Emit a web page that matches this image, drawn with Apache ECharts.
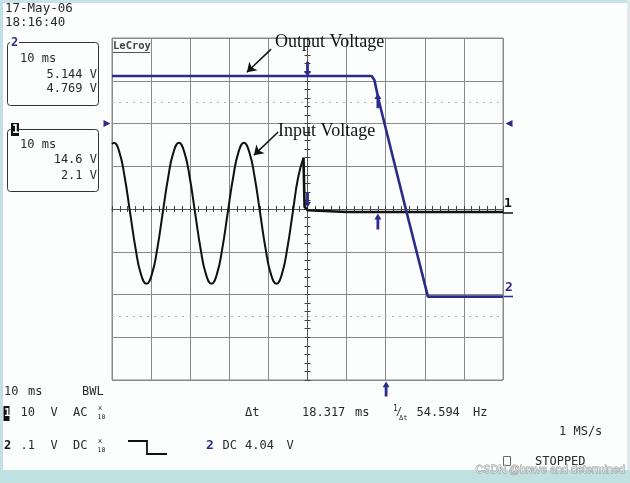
<!DOCTYPE html>
<html><head><meta charset="utf-8">
<script src="https://cdn.jsdelivr.net/npm/echarts@6/dist/echarts.min.js"></script>
<style>html,body{margin:0;padding:0;background:#fcfdfd;}#c{width:630px;height:483px;}</style>
</head><body><div id="c"></div>
<script>
// Time axis in ms (10 ms/div), vertical in divisions
const xTicks = [-50, -40, -30, -20, -10, 0, 10, 20, 30, 40, 50];
const yTicks = [-4, -3, -2, -1, 0, 1, 2, 3, 4];

// Channel 1 (Input Voltage) – sine portion
const inTime = [-50.00, -49.50, -48.12, -46.73, -45.35, -43.96, -42.58, -41.19, -39.81, -38.42, -37.04, -35.65, -34.27,
  -32.88, -31.50, -30.11, -28.73, -27.34, -25.96, -24.57, -23.19, -21.80, -20.42, -19.03, -17.65,
  -16.26, -14.88, -13.49, -12.11, -10.72, -9.34, -7.95, -6.57, -5.18, -3.80, -2.41, -1.03];
const inVal = [1.52, 1.55, 1.33, 0.73, -0.10, -0.93, -1.53, -1.75, -1.53, -0.93, -0.10, 0.73, 1.33,
  1.55, 1.33, 0.73, -0.10, -0.93, -1.53, -1.75, -1.53, -0.93, -0.10, 0.73, 1.33,
  1.55, 1.33, 0.73, -0.10, -0.93, -1.53, -1.75, -1.53, -0.93, -0.10, 0.73, 1.20];
// Channel 1 after the drop
const tailTime = [-1.03, -0.75, 0.10, 10.0, 50.0];
const tailVal = [1.20, 0.05, -0.03, -0.07, -0.07];

// Channel 2 (Output Voltage)
const outTime = [-50.0, 16.4, 17.1, 18.2, 25.2, 30.8, 50.0];
const outVal = [3.11, 3.11, 3.02, 2.55, -0.02, -2.05, -2.05];

// Reference dotted levels
const dotLevels = [2.5, -2.5];

const zip = (a, b) => a.map((v, i) => [v, b[i]]);
const NAVY = '#2b2b8c';
const MONO = '"DejaVu Sans Mono", "Liberation Mono", monospace';
const arrowUp = 'path://M5,0 L10,6 L7,6 L7,16 L3,16 L3,6 L0,6 Z';

function axisX(pos) {
  return {
    type: 'value', min: xTicks[0], max: xTicks[xTicks.length - 1], interval: 10, position: pos,
    axisLine: { show: true, onZero: true, lineStyle: { color: '#555', width: 1 } },
    axisTick: { show: true, inside: false, length: 3, lineStyle: { color: '#444' } },
    minorTick: { show: true, splitNumber: 5, length: 3, lineStyle: { color: '#444' } },
    axisLabel: { show: false },
    splitLine: { show: pos === 'bottom', lineStyle: { color: '#8a8a8a', width: 1 } },
    minorSplitLine: { show: false }
  };
}
function axisY(pos) {
  return {
    type: 'value', min: yTicks[0], max: yTicks[yTicks.length - 1], interval: 1, position: pos,
    axisLine: { show: true, onZero: true, lineStyle: { color: '#555', width: 1 } },
    axisTick: { show: true, inside: false, length: 3, lineStyle: { color: '#444' } },
    minorTick: { show: true, splitNumber: 5, length: 3, lineStyle: { color: '#444' } },
    axisLabel: { show: false },
    splitLine: { show: pos === 'left', lineStyle: { color: '#8a8a8a', width: 1 } },
    minorSplitLine: { show: false }
  };
}

function txt(x, y, s, opts) {
  opts = opts || {};
  return {
    type: 'text', silent: true, z: 100,
    style: {
      x: x, y: y, text: s,
      font: opts.font || ('12px ' + MONO),
      fill: opts.fill || '#2a2a2a',
      align: opts.align || 'left', verticalAlign: 'middle',
      stroke: opts.stroke, lineWidth: opts.lineWidth || 0
    }
  };
}
function rect(x, y, w, h, style, r) {
  return { type: 'rect', silent: true, z: 90, shape: { x: x, y: y, width: w, height: h, r: r || 0 }, style: style };
}
function line(x1, y1, x2, y2, stroke, w) {
  return { type: 'line', silent: true, z: 95, shape: { x1: x1, y1: y1, x2: x2, y2: y2 }, style: { stroke: stroke, lineWidth: w } };
}

const graphics = [
  rect(0, 0, 630, 3, { fill: '#c8e2ea' }),
  rect(0, 0, 3, 483, { fill: '#c0dfe8' }),
  rect(627, 0, 3, 483, { fill: '#dde9ec' }),
  rect(0, 470, 630, 13, { fill: '#bfe1e1' }),
  // header
  txt(5, 9, '17-May-06', { font: '12.5px ' + MONO }),
  txt(5, 23, '18:16:40', { font: '12.5px ' + MONO }),
  // box 2
  rect(7.5, 42.5, 91, 63, { fill: 'none', stroke: '#333', lineWidth: 1 }, 3),
  rect(10, 37, 9, 12, { fill: '#fcfdfd' }),
  txt(11, 43, '2', { font: 'bold 12px ' + MONO, fill: NAVY }),
  txt(20, 59, '10 ms'),
  txt(97, 75, '5.144 V', { align: 'right' }),
  txt(97, 89, '4.769 V', { align: 'right' }),
  // box 1
  rect(7.5, 129.5, 91, 62, { fill: 'none', stroke: '#333', lineWidth: 1 }, 3),
  rect(11, 123, 8, 13, { fill: '#111' }),
  txt(12, 130, '1', { font: 'bold 12px ' + MONO, fill: '#fff' }),
  txt(20, 145, '10 ms'),
  txt(97, 160, '14.6 V', { align: 'right' }),
  txt(97, 176, '2.1 V', { align: 'right' }),
  // LeCroy logo
  txt(113, 46, 'LeCroy', { font: 'bold 10.5px ' + MONO, fill: '#444' }),
  line(113, 52.5, 150, 52.5, '#555', 1),
  // annotations
  txt(275, 42, 'Output Voltage', { font: '18px "Liberation Serif", "DejaVu Serif", serif', fill: '#111' }),
  txt(278, 131, 'Input Voltage', { font: '18px "Liberation Serif", "DejaVu Serif", serif', fill: '#111' }),
  // right edge channel labels
  txt(504, 204, '1', { font: 'bold 13px ' + MONO, fill: '#111' }),
  line(503, 213, 513, 213, '#111', 1.5),
  txt(505, 288, '2', { font: 'bold 13px ' + MONO, fill: NAVY }),
  line(504, 296.5, 513, 296.5, NAVY, 1.5),
  // bottom status area
  txt(4, 392, '10'), txt(28, 392, 'ms'), txt(82, 392, 'BWL'),
  rect(3.5, 406, 6, 15, { fill: '#111' }),
  txt(4, 413.5, '1', { font: 'bold 11px ' + MONO, fill: '#fff' }),
  txt(20.5, 413, '10'), txt(50.5, 413, 'V'), txt(73, 413, 'AC'),
  txt(98, 408.5, 'x', { font: '7px ' + MONO }), txt(97.5, 417.5, '10', { font: '6.5px ' + MONO }),
  txt(245, 413, 'Δt'),
  txt(302, 413, '18.317'), txt(355, 413, 'ms'),
  txt(393, 409, '1', { font: '8px ' + MONO }), txt(396, 412, '/', { font: '10px ' + MONO }),
  txt(399, 418, 'Δt', { font: '7px ' + MONO }),
  txt(416.5, 413, '54.594'), txt(473, 413, 'Hz'),
  txt(559, 432, '1 MS/s'),
  txt(4, 446, '2', { font: 'bold 12px ' + MONO, fill: '#111' }),
  txt(20.5, 446, '.1'), txt(50.5, 446, 'V'), txt(73, 446, 'DC'),
  txt(98, 441.5, 'x', { font: '7px ' + MONO }), txt(97.5, 450.5, '10', { font: '6.5px ' + MONO }),
  { type: 'polyline', silent: true, z: 95, shape: { points: [[128, 441], [147, 441], [147, 454], [167, 454]] },
    style: { stroke: '#111', lineWidth: 1.8, fill: 'none' } },
  txt(206, 446, '2', { font: 'bold 13px ' + MONO, fill: NAVY }),
  txt(222.5, 446, 'DC'), txt(245, 446, '4.04'), txt(286.5, 446, 'V'),
  rect(503.5, 456.5, 7, 9, { fill: 'none', stroke: '#666', lineWidth: 1 }),
  txt(535, 461.5, 'STOPPED'),
  txt(625, 470.5, 'CSDN @brave and determined', { align: 'right', font: '10.8px "Liberation Sans", "DejaVu Sans", sans-serif', fill: '#e6e6e6', stroke: '#8a8a8a', lineWidth: 0.8 })
];

const chart = echarts.init(document.getElementById('c'), null, { renderer: 'canvas' });
chart.setOption({
  animation: false,
  backgroundColor: '#fcfdfd',
  grid: { left: 112, top: 38, width: 391, height: 342, show: true, borderColor: '#888', borderWidth: 1, backgroundColor: 'transparent' },
  xAxis: [axisX('bottom'), axisX('top')],
  yAxis: [axisY('left'), axisY('right')],
  graphic: graphics,
  series: [
    {
      name: 'Input Voltage', type: 'line', data: zip(inTime, inVal), smooth: true, showSymbol: false, symbol: 'none',
      lineStyle: { color: '#111', width: 2 }, z: 5,
      markLine: {
        silent: true, symbol: 'none', animation: false, label: { show: false },
        lineStyle: { color: '#b0b0b0', type: [2, 5], width: 1 },
        data: dotLevels.map(v => ({ yAxis: v }))
      }
    },
    {
      name: 'Input tail', type: 'line', data: zip(tailTime, tailVal), showSymbol: false, symbol: 'none',
      lineStyle: { color: '#111', width: 2.6 }, z: 5,
      markLine: {
        silent: true, symbol: ['none', 'arrow'], symbolSize: 9, animation: false, label: { show: false },
        lineStyle: { color: '#111', type: 'solid', width: 1.5 },
        data: [
          [{ coord: [-9.3, 3.74] }, { coord: [-15.5, 3.2] }],
          [{ coord: [-7.5, 1.80] }, { coord: [-13.7, 1.26] }]
        ]
      }
    },
    {
      name: 'Output Voltage', type: 'line', data: zip(outTime, outVal), showSymbol: false, symbol: 'none',
      lineStyle: { color: NAVY, width: 2.6 }, z: 6,
      markPoint: {
        silent: true, animation: false, label: { show: false }, itemStyle: { color: NAVY },
        data: [
          { coord: [0, 3.27], symbol: arrowUp, symbolSize: [7, 15], symbolRotate: 180 },
          { coord: [18.0, 2.53], symbol: arrowUp, symbolSize: [7, 15] },
          { coord: [0, 0.21], symbol: arrowUp, symbolSize: [7, 15], symbolRotate: 180 },
          { coord: [18.0, -0.29], symbol: arrowUp, symbolSize: [7, 16] },
          { coord: [20.1, -4], symbol: arrowUp, symbolSize: [7, 15], symbolOffset: [0, 9] },
          { coord: [-50, 2], symbol: 'triangle', symbolSize: [7, 7], symbolRotate: -90, symbolOffset: [-5, 0] },
          { coord: [50, 2], symbol: 'triangle', symbolSize: [7, 7], symbolRotate: 90, symbolOffset: [6, 0] }
        ]
      }
    }
  ]
});
</script>
</body></html>
